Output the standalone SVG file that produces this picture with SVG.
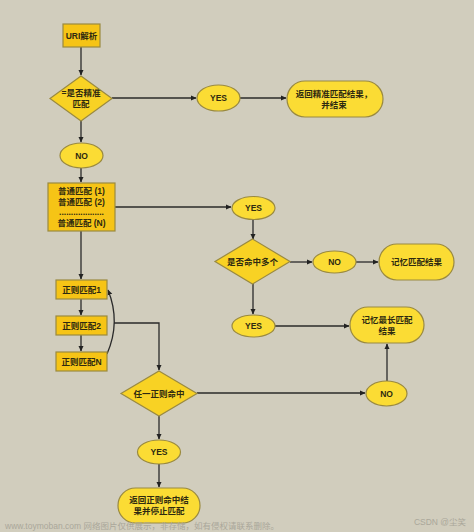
<svg xmlns="http://www.w3.org/2000/svg" width="474" height="532" viewBox="0 0 474 532">
<defs>
<marker id="ah" markerWidth="6" markerHeight="6" refX="5" refY="3" orient="auto" markerUnits="userSpaceOnUse">
<path d="M0,0.5 L5.5,3 L0,5.5 Z" fill="#222"/>
</marker>
<style>
.bg{fill:#d1cdbd}
.box{fill:#f6c416;stroke:#9a8a40;stroke-width:1.2}
.ell{fill:#fbdc34;stroke:#9a8a40;stroke-width:1.2}
.dia{fill:#f8d224;stroke:#9a8a40;stroke-width:1.2}
.rr{fill:#fbdc34;stroke:#9a8a40;stroke-width:1.2}
.t{font-family:"Liberation Sans","Noto Sans CJK SC",sans-serif;font-size:8.5px;font-weight:bold;fill:#2e2a10;text-anchor:middle}
.c{fill:none;stroke:#2a2a2a;stroke-width:1.3}
.wm{font-family:"Liberation Sans","Noto Sans CJK SC",sans-serif;font-size:8.5px;fill:#aaa79a}
</style>
</defs>
<rect class="bg" x="0" y="0" width="474" height="532"/>

<g id="connectors">
<line class="c" x1="81" y1="47" x2="81" y2="75" marker-end="url(#ah)"/>
<line class="c" x1="112" y1="98" x2="196" y2="98" marker-end="url(#ah)"/>
<line class="c" x1="240" y1="98" x2="286" y2="98" marker-end="url(#ah)"/>
<line class="c" x1="81" y1="121" x2="81" y2="142" marker-end="url(#ah)"/>
<line class="c" x1="81" y1="168" x2="81" y2="182" marker-end="url(#ah)"/>
<line class="c" x1="115" y1="207" x2="231" y2="207" marker-end="url(#ah)"/>
<line class="c" x1="253" y1="219" x2="253" y2="239" marker-end="url(#ah)"/>
<line class="c" x1="290" y1="262" x2="312" y2="262" marker-end="url(#ah)"/>
<line class="c" x1="356" y1="262" x2="378" y2="262" marker-end="url(#ah)"/>
<line class="c" x1="253" y1="284" x2="253" y2="314" marker-end="url(#ah)"/>
<line class="c" x1="275" y1="326" x2="349" y2="326" marker-end="url(#ah)"/>
<line class="c" x1="81" y1="231" x2="81" y2="279" marker-end="url(#ah)"/>
<line class="c" x1="81" y1="299" x2="81" y2="315" marker-end="url(#ah)"/>
<line class="c" x1="81" y1="335" x2="81" y2="351" marker-end="url(#ah)"/>
<path class="c" d="M107,354 Q121,322 108,290" marker-end="url(#ah)"/>
<polyline class="c" points="114,323 159,323 159,370" marker-end="url(#ah)"/>
<line class="c" x1="197" y1="393" x2="365" y2="393" marker-end="url(#ah)"/>
<line class="c" x1="387" y1="381" x2="387" y2="344" marker-end="url(#ah)"/>
<line class="c" x1="159" y1="416" x2="159" y2="439" marker-end="url(#ah)"/>
<line class="c" x1="159" y1="464" x2="159" y2="487" marker-end="url(#ah)"/>
</g>

<g id="uri">
<rect class="box" x="63" y="24" width="37" height="23"/>
<text class="t" x="81.5" y="38.5">URI解析</text>
</g>
<g id="exact">
<polygon class="dia" points="81,76 112,98.5 81,121 50,98.5"/>
<text class="t" x="81" y="96">=是否精准</text>
<text class="t" x="81" y="107">匹配</text>
</g>
<g id="yes1">
<ellipse class="ell" cx="218.5" cy="98" rx="21.5" ry="13"/>
<text class="t" x="218.5" y="101">YES</text>
</g>
<g id="ret-exact">
<rect class="rr" x="287" y="81" width="96" height="36" rx="18"/>
<text class="t" x="334" y="97">返回精准匹配结果，</text>
<text class="t" x="334" y="108">并结束</text>
</g>
<g id="no1">
<ellipse class="ell" cx="81.5" cy="155.5" rx="21.5" ry="12.5"/>
<text class="t" x="81.5" y="158.5">NO</text>
</g>
<g id="normal">
<rect class="box" x="48" y="183" width="67" height="48"/>
<text class="t" x="81.5" y="194">普通匹配 (1)</text>
<text class="t" x="81.5" y="205">普通匹配 (2)</text>
<text class="t" x="81.5" y="215">...................</text>
<text class="t" x="81.5" y="226">普通匹配 (N)</text>
</g>
<g id="yes2">
<ellipse class="ell" cx="253.5" cy="208" rx="21.5" ry="11.5"/>
<text class="t" x="253.5" y="211">YES</text>
</g>
<g id="multi">
<polygon class="dia" points="252.5,239 290,261.5 252.5,284 215,261.5"/>
<text class="t" x="252.5" y="264.5">是否命中多个</text>
</g>
<g id="no2">
<ellipse class="ell" cx="334.5" cy="262" rx="21.5" ry="11"/>
<text class="t" x="334.5" y="265">NO</text>
</g>
<g id="remember">
<rect class="rr" x="379" y="244" width="75" height="36" rx="18"/>
<text class="t" x="416.5" y="265">记忆匹配结果</text>
</g>
<g id="yes3">
<ellipse class="ell" cx="253.5" cy="326" rx="21.5" ry="11"/>
<text class="t" x="253.5" y="329">YES</text>
</g>
<g id="longest">
<rect class="rr" x="350" y="307" width="74" height="36" rx="18"/>
<text class="t" x="387" y="323">记忆最长匹配</text>
<text class="t" x="387" y="334">结果</text>
</g>
<g id="re1">
<rect class="box" x="56" y="280" width="51" height="19"/>
<text class="t" x="81.5" y="292.5">正则匹配1</text>
</g>
<g id="re2">
<rect class="box" x="56" y="316" width="51" height="19"/>
<text class="t" x="81.5" y="328.5">正则匹配2</text>
</g>
<g id="reN">
<rect class="box" x="56" y="352" width="51" height="19"/>
<text class="t" x="81.5" y="364.5">正则匹配N</text>
</g>
<g id="anyre">
<polygon class="dia" points="159,371 197,393.5 159,416 121,393.5"/>
<text class="t" x="159" y="396.5">任一正则命中</text>
</g>
<g id="no3">
<ellipse class="ell" cx="386.5" cy="393.5" rx="20.5" ry="12.5"/>
<text class="t" x="386.5" y="396.5">NO</text>
</g>
<g id="yes4">
<ellipse class="ell" cx="159" cy="452" rx="21.5" ry="12"/>
<text class="t" x="159" y="455">YES</text>
</g>
<g id="ret-re">
<rect class="rr" x="118" y="488" width="82" height="35" rx="17.5"/>
<text class="t" x="159" y="503">返回正则命中结</text>
<text class="t" x="159" y="514">果并停止匹配</text>
</g>
<g id="watermark">
<text class="wm" x="5" y="529">www.toymoban.com 网络图片仅供展示，非存储，如有侵权请联系删除。</text>
<text class="wm" x="466" y="525" font-size="7" text-anchor="end">CSDN @尘笑</text>
</g>
</svg>
